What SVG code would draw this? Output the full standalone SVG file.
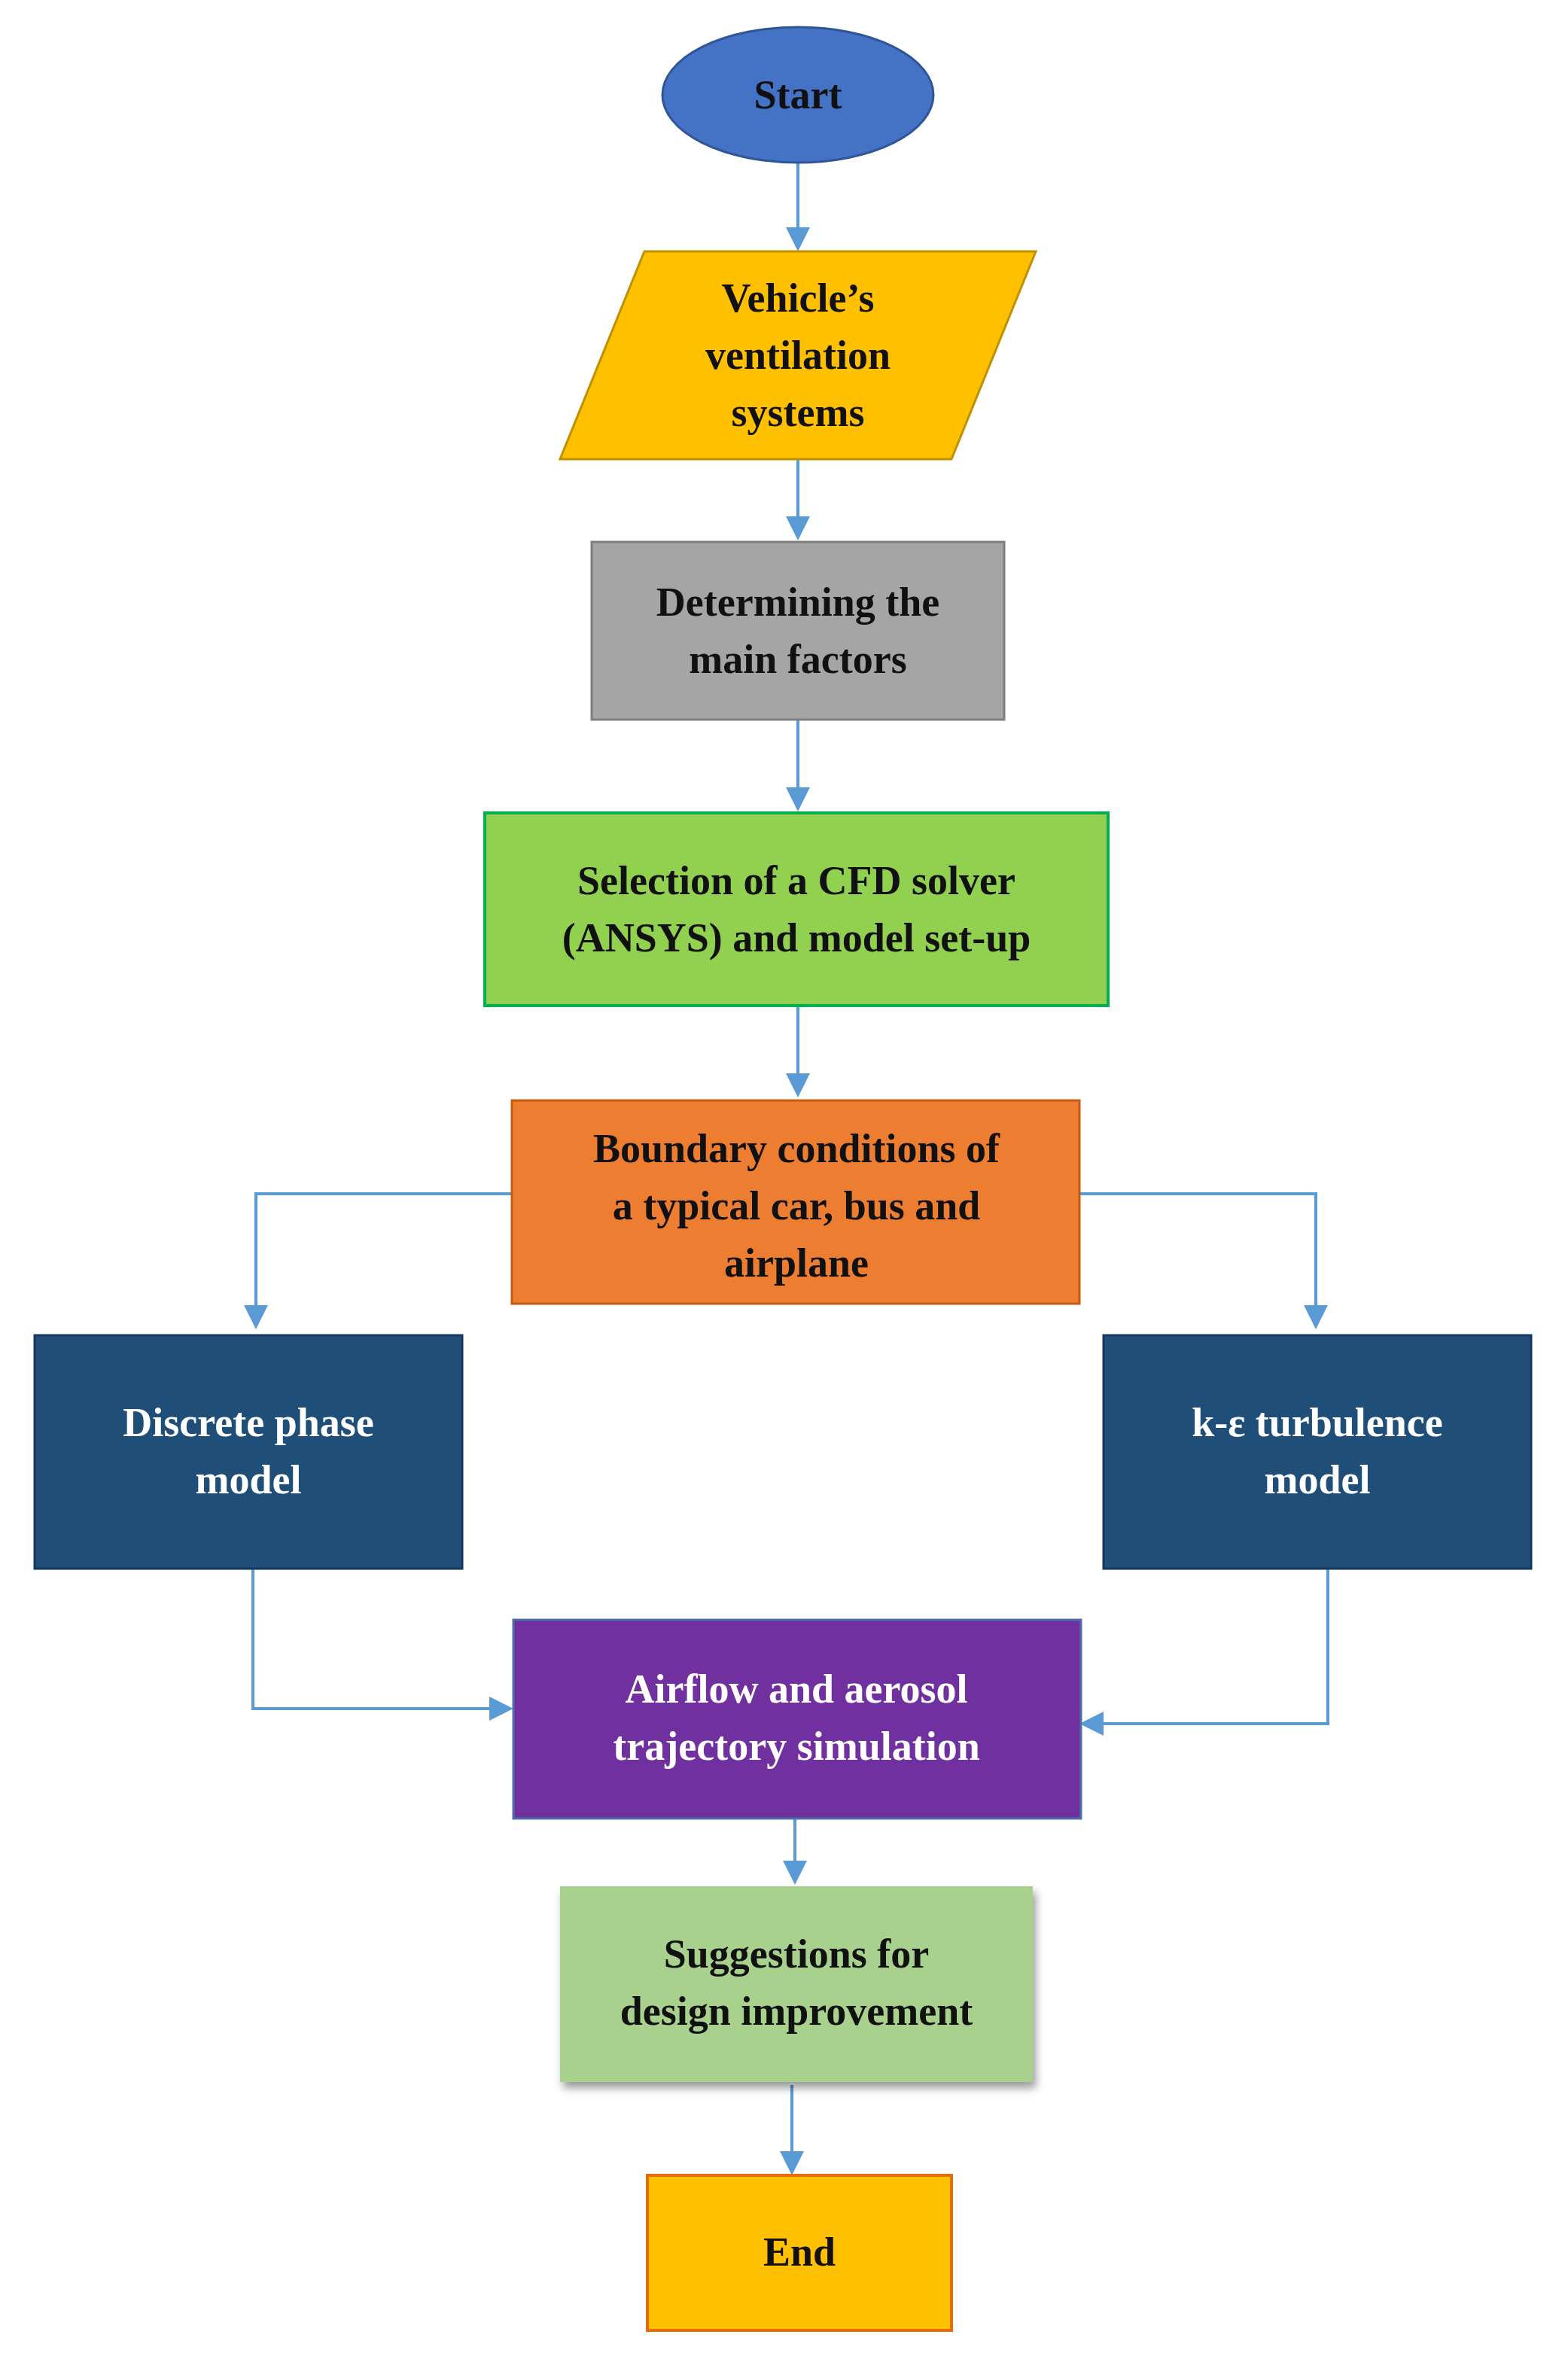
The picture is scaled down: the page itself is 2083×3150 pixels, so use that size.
<svg xmlns="http://www.w3.org/2000/svg" width="2083" height="3150" viewBox="0 0 2083 3150">
<style>
text{font-family:"Liberation Serif","Times New Roman",serif;font-weight:bold;font-size:54px;text-anchor:middle}
.d{fill:#111}.w{fill:#fff}
.c{fill:none;stroke:#5B9BD5;stroke-width:4;marker-end:url(#a)}
</style>
<defs>
<marker id="a" markerWidth="8" markerHeight="8" refX="7" refY="4" orient="auto" markerUnits="strokeWidth"><path d="M0,0L8,4L0,8z" fill="#5B9BD5"/></marker>
<filter id="s" x="-10%" y="-10%" width="120%" height="130%"><feDropShadow dx="4" dy="8" stdDeviation="6" flood-opacity="0.4"/></filter>
</defs>
<rect width="2083" height="3150" fill="#fff"/>
<g id="connectors">
<path class="c" d="M1060,216V330"/>
<path class="c" d="M1060,610V714"/>
<path class="c" d="M1060,956V1074"/>
<path class="c" d="M1060,1336V1454"/>
<path class="c" d="M680,1586H340V1762"/>
<path class="c" d="M1434,1586H1748V1762"/>
<path class="c" d="M336,2084V2270H678"/>
<path class="c" d="M1764,2084V2290H1438"/>
<path class="c" d="M1056,2416V2500"/>
<path class="c" d="M1052,2770V2886"/>
</g>
<g id="start"><ellipse cx="1060" cy="126" rx="180" ry="90" fill="#4472C4" stroke="#2F5597" stroke-width="3"/><text class="d" x="1060" y="144">Start</text></g>
<g id="vehicle"><path d="M856,334H1376L1264,610H744Z" fill="#FFC000" stroke="#BF9000" stroke-width="3"/>
<text class="d" x="1060" y="414">Vehicle’s</text><text class="d" x="1060" y="490">ventilation</text><text class="d" x="1060" y="566">systems</text></g>
<g id="factors"><rect x="786" y="720" width="548" height="236" fill="#A5A5A5" stroke="#7F7F7F" stroke-width="3"/>
<text class="d" x="1060" y="818">Determining the</text><text class="d" x="1060" y="894">main factors</text></g>
<g id="cfd"><rect x="644" y="1080" width="828" height="256" fill="#92D050" stroke="#00B050" stroke-width="4"/>
<text class="d" x="1058" y="1188">Selection of a CFD solver</text><text class="d" x="1058" y="1264">(ANSYS) and model set-up</text></g>
<g id="boundary"><rect x="680" y="1462" width="754" height="270" fill="#ED7D31" stroke="#C55A11" stroke-width="3"/>
<text class="d" x="1058" y="1544">Boundary conditions of</text><text class="d" x="1058" y="1620">a typical car, bus and</text><text class="d" x="1058" y="1696">airplane</text></g>
<g id="discrete"><rect x="46" y="1774" width="568" height="310" fill="#1F4E79" stroke="#17375E" stroke-width="3"/>
<text class="w" x="330" y="1908">Discrete phase</text><text class="w" x="330" y="1984">model</text></g>
<g id="ke"><rect x="1466" y="1774" width="568" height="310" fill="#1F4E79" stroke="#17375E" stroke-width="3"/>
<text class="w" x="1750" y="1908">k-ε turbulence</text><text class="w" x="1750" y="1984">model</text></g>
<g id="airflow"><rect x="682" y="2152" width="754" height="264" fill="#7030A0" stroke="#4F6FA8" stroke-width="3"/>
<text class="w" x="1058" y="2262">Airflow and aerosol</text><text class="w" x="1058" y="2338">trajectory simulation</text></g>
<g id="suggest"><rect x="744" y="2506" width="628" height="260" fill="#A9D18E" filter="url(#s)"/>
<text class="d" x="1058" y="2614">Suggestions for</text><text class="d" x="1058" y="2690">design improvement</text></g>
<g id="end"><rect x="860" y="2890" width="404" height="206" fill="#FFC000" stroke="#E46C0A" stroke-width="4"/><text class="d" x="1062" y="3010">End</text></g>
</svg>
